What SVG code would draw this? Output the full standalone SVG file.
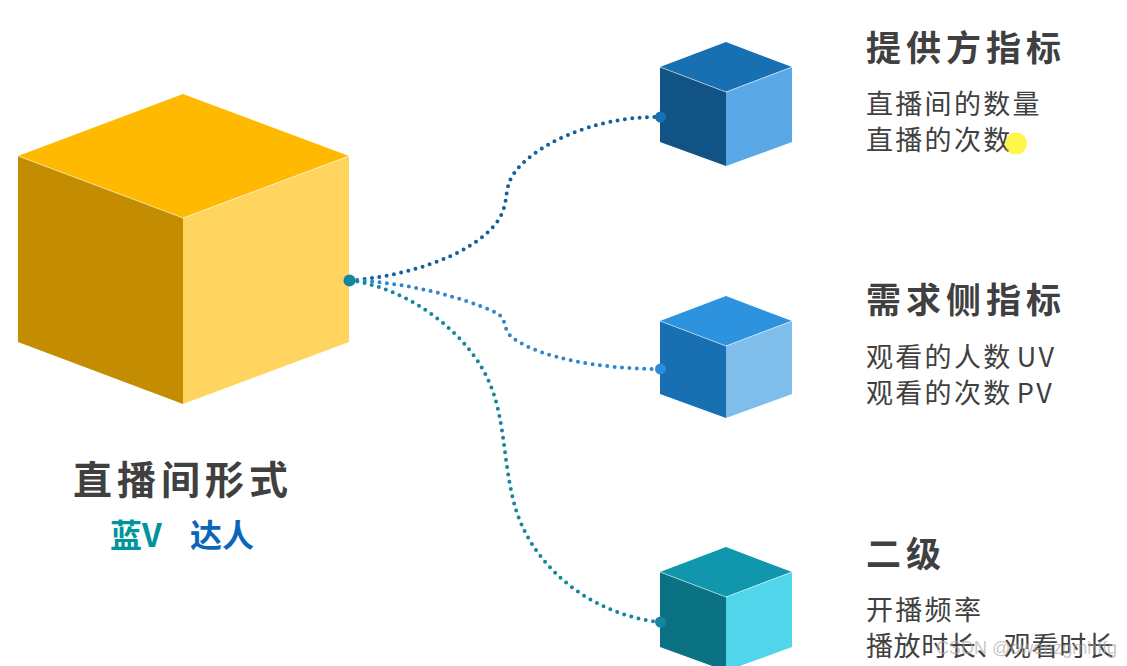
<svg xmlns="http://www.w3.org/2000/svg" width="1127" height="666" viewBox="0 0 1127 666">
  <style>
    text { font-family: "Noto Sans CJK SC", "Noto Sans", sans-serif; }
    .title { font-size: 35px; font-weight: 700; fill: #404040; letter-spacing: 5px; }
    .body { font-size: 27px; font-weight: 400; fill: #404040; letter-spacing: 2.300px; word-spacing: -4px; }
    .edge { fill: none; stroke-width: 4; stroke-linecap: round; stroke-dasharray: 0 7.400; }
    .seam { fill: none; stroke: #ffffff; stroke-opacity: .55; stroke-width: 1; }
  </style>
  <rect width="1127" height="666" fill="#ffffff"/>

  <g id="connectors">
    <path class="edge" stroke="#13609a" d="M350 280.500C400 277 470 258 497 222C510 204 503 190 513 175C530 148 590 116 660 117"/>
    <path class="edge" stroke="#2f86cf" d="M350 280.500C400 281 460 296 497 313C508 320 502 330 513 338C540 358 600 369 660 369"/>
    <path class="edge" stroke="#14879c" d="M350 280.500C410 288 470 335 490 384C505 420 503 460 514 503C530 565 590 615 660 622"/>
  </g>

  <g id="main-cube">
    <polygon fill="#ffb900" points="183,94 349,156 183,218 18,156"/>
    <polygon fill="#c48c00" points="18,156 183,218 183,404 18,342"/>
    <polygon fill="#ffd45f" points="183,218 349,156 349,342 183,404"/>
    <polyline class="seam" points="18,156 183,218 349,156"/>
    <circle cx="349.500" cy="280.500" r="6" fill="#14879c"/>
  </g>

  <g id="main-label">
    <text x="73" y="494" font-size="39" font-weight="700" fill="#404040" letter-spacing="5">直播间形式</text>
    <text x="110" y="547" font-size="32" font-weight="700" fill="#00959b">蓝V</text>
    <text x="190" y="547" font-size="32" font-weight="700" fill="#0a66b8">达人</text>
  </g>

  <g id="supply-cube">
    <polygon fill="#186fb2" points="726,42 792,67 726,92 660,67"/>
    <polygon fill="#125386" points="660,67 726,92 726,166 660,142"/>
    <polygon fill="#5aa9e6" points="726,92 792,67 792,142 726,166"/>
    <polyline class="seam" points="660,67 726,92 792,67"/>
    <circle cx="660.500" cy="117" r="5.500" fill="#186fb2"/>
  </g>
  <g id="supply-label">
    <text class="title" x="866" y="61">提供方指标</text>
    <text class="body" x="866" y="114">直播间的数量</text>
    <text class="body" x="866" y="150">直播的次数</text>
  </g>

  <g id="demand-cube">
    <polygon fill="#2e93df" points="726,296 792,321 726,346 660,321"/>
    <polygon fill="#186fb2" points="660,321 726,346 726,418 660,394"/>
    <polygon fill="#7fbdeb" points="726,346 792,321 792,394 726,418"/>
    <polyline class="seam" points="660,321 726,346 792,321"/>
    <circle cx="660.500" cy="369" r="5.500" fill="#2e8bd8"/>
  </g>
  <g id="demand-label">
    <text class="title" x="866" y="313">需求侧指标</text>
    <text class="body" x="866" y="367">观看的人数 UV</text>
    <text class="body" x="866" y="403">观看的次数 PV</text>
  </g>

  <g id="secondary-cube">
    <polygon fill="#1097ae" points="726,547 792,572 726,597 660,572"/>
    <polygon fill="#0b7284" points="660,572 726,597 726,671 660,647"/>
    <polygon fill="#50d5ea" points="726,597 792,572 792,647 726,671"/>
    <polyline class="seam" points="660,572 726,597 792,572"/>
    <circle cx="660.500" cy="622" r="5.500" fill="#14879c"/>
  </g>
  <g id="secondary-label">
    <text class="title" x="866" y="567">二级</text>
    <text class="body" x="866" y="620">开播频率</text>
    <text class="body" x="866" y="656" style="letter-spacing:.6px">播放时长、观看时长</text>
  </g>

  <circle cx="1016" cy="143.500" r="11" fill="#fff200" fill-opacity=".7"/>
  <text x="936" y="654" font-size="18" fill="#a8a8a8" fill-opacity=".65" style="font-family:'Liberation Sans',sans-serif">CSDN @owenzgmhffg</text>
</svg>
